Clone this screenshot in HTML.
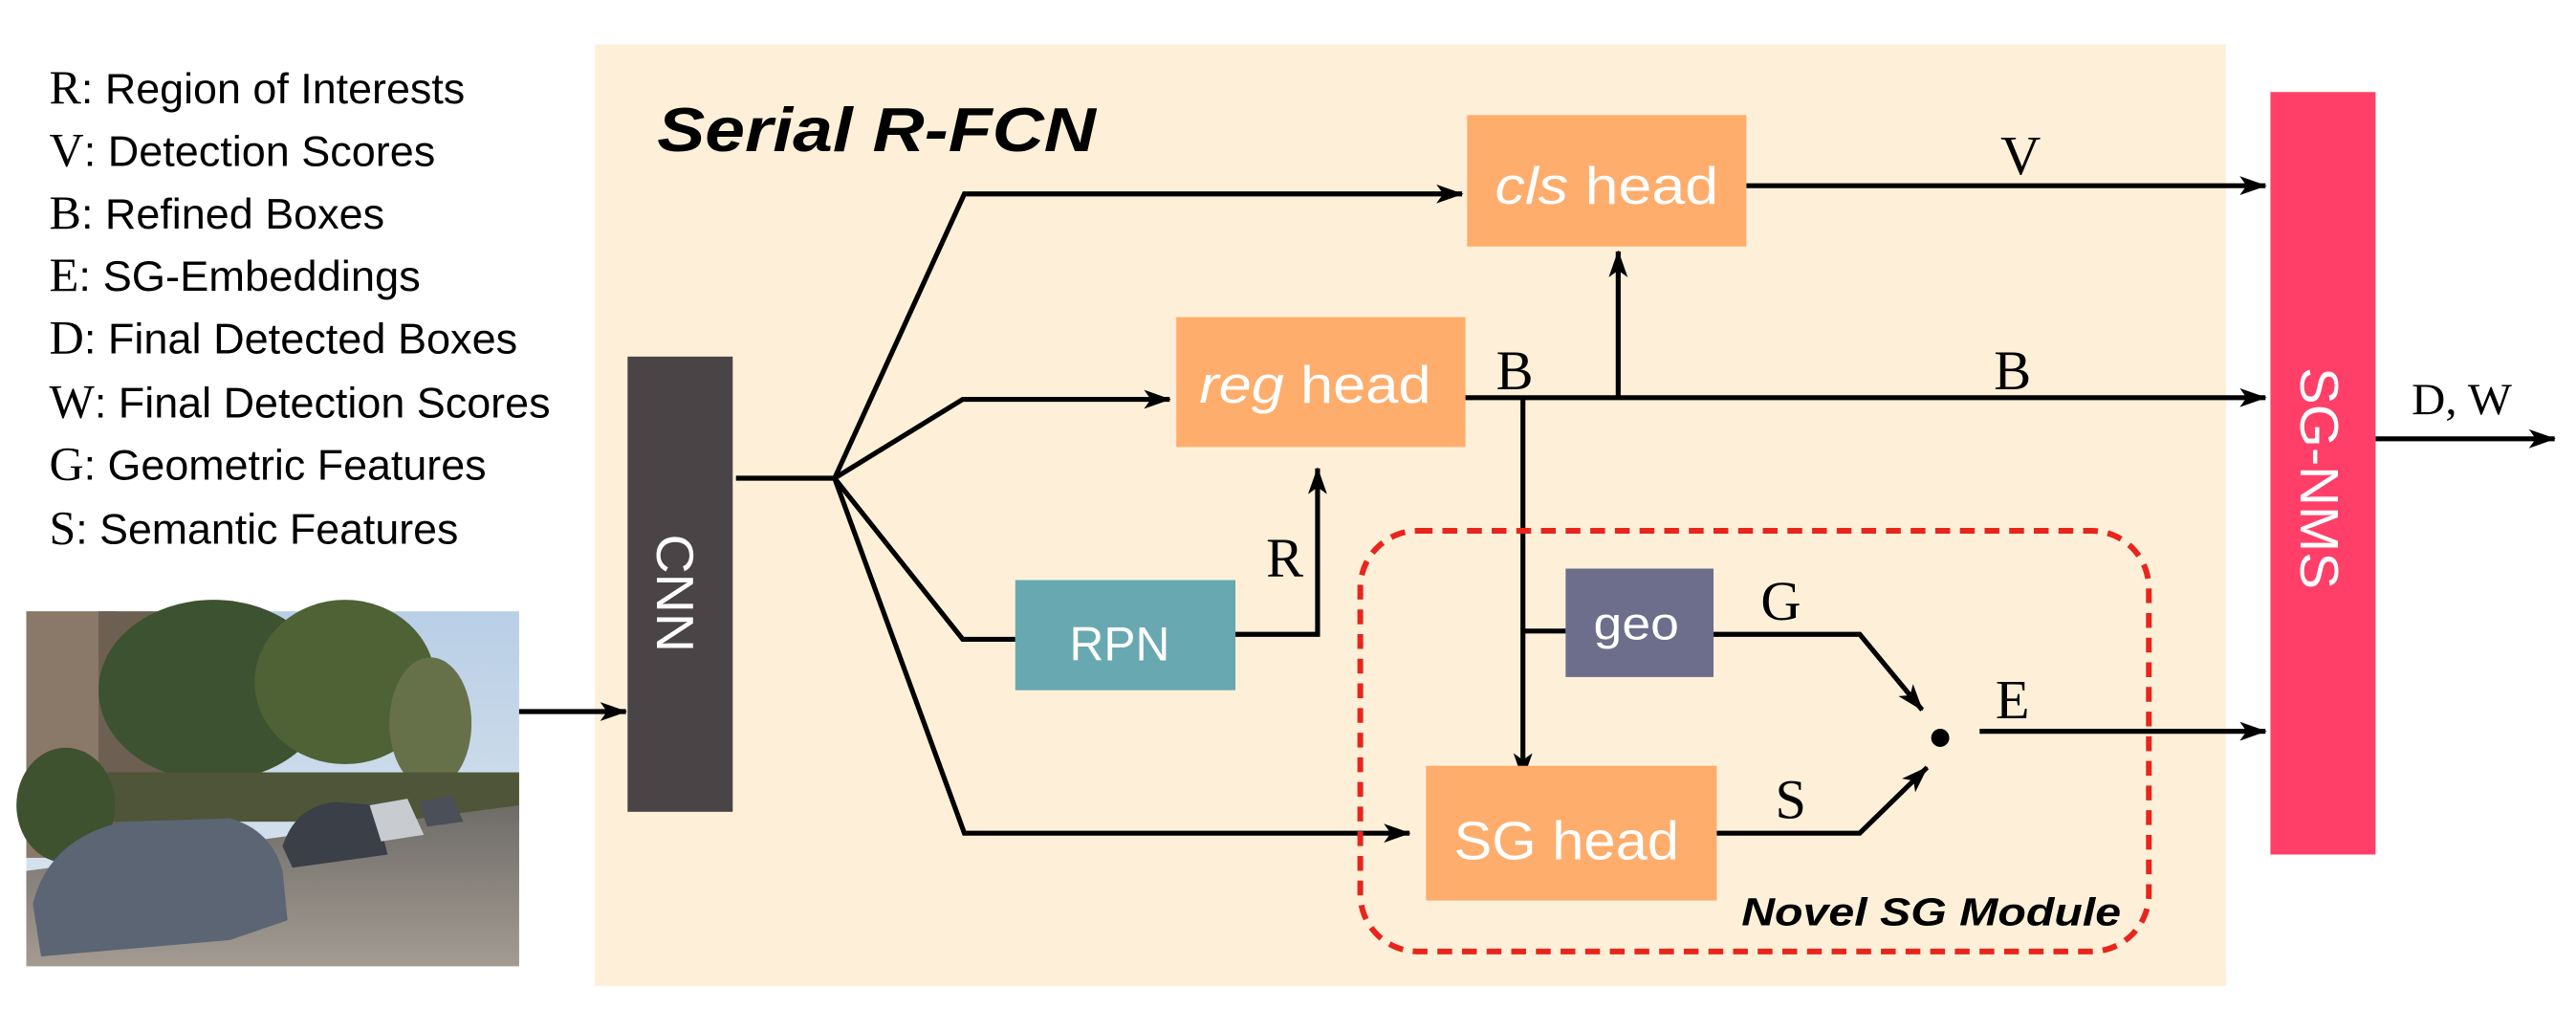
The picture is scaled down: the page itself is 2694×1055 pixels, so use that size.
<!DOCTYPE html>
<html><head><meta charset="utf-8"><style>
html,body{margin:0;padding:0;background:#fff;}
svg{display:block;}
.s{font-family:"Liberation Serif",serif;}
.a{font-family:"Liberation Sans",sans-serif;}
</style></head><body>
<svg width="2694" height="1055" viewBox="0 0 1568 614" preserveAspectRatio="none" xmlns="http://www.w3.org/2000/svg">
<defs>
<marker id="ar" viewBox="0 0 20 14" refX="19" refY="7" markerWidth="5.5" markerHeight="4.5" markerUnits="strokeWidth" orient="auto">
<path d="M0,0 L20,7 L0,14 L5,7 Z" fill="#000"/>
</marker>
<linearGradient id="sky" x1="0" y1="0" x2="0" y2="1">
<stop offset="0" stop-color="#b9cfe6"/><stop offset="1" stop-color="#dfe7ef"/>
</linearGradient>
<linearGradient id="road" x1="0" y1="0" x2="0" y2="1">
<stop offset="0" stop-color="#6f6c68"/><stop offset="1" stop-color="#a39b92"/>
</linearGradient>
</defs>

<!-- legend -->
<g font-size="26">
<text x="30" y="63" textLength="253" lengthAdjust="spacingAndGlyphs"><tspan class="s" font-size="29">R</tspan><tspan class="a">: Region of Interests</tspan></text>
<text x="30" y="101" textLength="235" lengthAdjust="spacingAndGlyphs"><tspan class="s" font-size="29">V</tspan><tspan class="a">: Detection Scores</tspan></text>
<text x="30" y="139" textLength="204" lengthAdjust="spacingAndGlyphs"><tspan class="s" font-size="29">B</tspan><tspan class="a">: Refined Boxes</tspan></text>
<text x="30" y="177" textLength="226" lengthAdjust="spacingAndGlyphs"><tspan class="s" font-size="29">E</tspan><tspan class="a">: SG-Embeddings</tspan></text>
<text x="30" y="215" textLength="285" lengthAdjust="spacingAndGlyphs"><tspan class="s" font-size="29">D</tspan><tspan class="a">: Final Detected Boxes</tspan></text>
<text x="30" y="254" textLength="305" lengthAdjust="spacingAndGlyphs"><tspan class="s" font-size="29">W</tspan><tspan class="a">: Final Detection Scores</tspan></text>
<text x="30" y="292" textLength="266" lengthAdjust="spacingAndGlyphs"><tspan class="s" font-size="29">G</tspan><tspan class="a">: Geometric Features</tspan></text>
<text x="30" y="331" textLength="249" lengthAdjust="spacingAndGlyphs"><tspan class="s" font-size="29">S</tspan><tspan class="a">: Semantic Features</tspan></text>
</g>

<!-- photo -->
<g>
<rect x="16" y="372" width="300" height="216" fill="url(#sky)"/>
<rect x="16" y="372" width="55" height="150" fill="#8a7868"/>
<rect x="60" y="372" width="50" height="130" fill="#6d5f52"/>
<ellipse cx="130" cy="420" rx="70" ry="55" fill="#3d5230"/>
<ellipse cx="210" cy="415" rx="55" ry="50" fill="#4f6235"/>
<ellipse cx="262" cy="440" rx="25" ry="40" fill="#66714a"/>
<rect x="16" y="470" width="300" height="30" fill="#4f5538"/>
<polygon points="16,530 316,490 316,588 16,588" fill="url(#road)"/>
<ellipse cx="40" cy="490" rx="30" ry="35" fill="#3e5230"/>
<path d="M20,550 Q30,510 75,500 L140,498 Q165,505 172,530 L175,560 L140,572 L25,582 Z" fill="#5b6573"/>
<path d="M172,515 Q180,490 205,488 L228,490 L236,520 L178,528 Z" fill="#3a3f48"/>
<path d="M225,490 L248,486 L258,508 L232,512 Z" fill="#c8ccd0"/>
<path d="M255,488 L275,484 L282,500 L260,503 Z" fill="#4a4f58"/>
</g>

<!-- panel -->
<rect x="362" y="27" width="993" height="573" fill="#FEF0D8"/>
<text x="400" y="92" class="a" font-size="38" font-weight="bold" font-style="italic" textLength="267" lengthAdjust="spacingAndGlyphs">Serial R-FCN</text>

<!-- CNN -->
<rect x="382" y="217" width="64" height="277" fill="#4A4446"/>
<text transform="translate(411,361) rotate(90)" class="a" font-size="32" fill="#fff" text-anchor="middle" dominant-baseline="central" textLength="72" lengthAdjust="spacingAndGlyphs">CNN</text>

<g stroke="#000" stroke-width="3" fill="none">
<line x1="316" y1="433" x2="381" y2="433" marker-end="url(#ar)"/>
<polyline points="448,291 508,291"/>
<polyline points="508,291 587,118 890,118" marker-end="url(#ar)"/>
<polyline points="508,291 586,243 712,243" marker-end="url(#ar)"/>
<polyline points="508,291 586,389 618,389"/>
<polyline points="508,291 587,507 858,507" marker-end="url(#ar)"/>
<polyline points="752,386 802,386 802,285" marker-end="url(#ar)"/>
<line x1="1063" y1="113" x2="1379" y2="113" marker-end="url(#ar)"/>
<line x1="892" y1="242" x2="1379" y2="242" marker-end="url(#ar)"/>
<line x1="985" y1="242" x2="985" y2="153" marker-end="url(#ar)"/>
<line x1="927" y1="242" x2="927" y2="474" marker-end="url(#ar)"/>
<line x1="927" y1="384" x2="953" y2="384"/>
<polyline points="1043,386 1132,386 1170,432" marker-end="url(#ar)"/>
<polyline points="1045,507 1132,507 1173,467" marker-end="url(#ar)"/>
<line x1="1205" y1="445" x2="1379" y2="445" marker-end="url(#ar)"/>
<line x1="1446" y1="267" x2="1555" y2="267" marker-end="url(#ar)"/>
</g>
<circle cx="1181" cy="449" r="5.5" fill="#000"/>

<!-- dashed module -->
<rect x="828" y="323" width="480" height="256" rx="35" ry="35" fill="none" stroke="#E8251C" stroke-width="3.5" stroke-dasharray="9,6"/>
<text x="1060" y="563" class="a" font-size="24" font-weight="bold" font-style="italic" textLength="231" lengthAdjust="spacingAndGlyphs">Novel SG Module</text>

<!-- boxes -->
<rect x="893" y="70" width="170" height="80" fill="#FFAD6C"/>
<text x="910" y="124" class="a" font-size="32" fill="#fff" textLength="136" lengthAdjust="spacingAndGlyphs"><tspan font-style="italic">cls</tspan> head</text>
<rect x="716" y="193" width="176" height="79" fill="#FFAD6C"/>
<text x="730" y="245" class="a" font-size="32" fill="#fff" textLength="141" lengthAdjust="spacingAndGlyphs"><tspan font-style="italic">reg</tspan> head</text>
<rect x="618" y="353" width="134" height="67" fill="#68A8B1"/>
<text x="651" y="402" class="a" font-size="29" fill="#fff" textLength="61" lengthAdjust="spacingAndGlyphs">RPN</text>
<rect x="953" y="346" width="90" height="66" fill="#6D6E8B"/>
<text x="970" y="389" class="a" font-size="28" fill="#fff" textLength="52" lengthAdjust="spacingAndGlyphs">geo</text>
<rect x="868" y="466" width="177" height="82" fill="#FFAD6C"/>
<text x="885" y="523" class="a" font-size="33" fill="#fff" textLength="137" lengthAdjust="spacingAndGlyphs">SG head</text>

<rect x="1382" y="56" width="64" height="464" fill="#FF3F68"/>
<text transform="translate(1411,291) rotate(90)" class="a" font-size="33" fill="#fff" text-anchor="middle" dominant-baseline="central" textLength="135" lengthAdjust="spacingAndGlyphs">SG-NMS</text>

<!-- labels -->
<g class="s" font-size="34">
<text x="782" y="351" text-anchor="middle">R</text>
<text x="922" y="237" text-anchor="middle">B</text>
<text x="1225" y="237" text-anchor="middle">B</text>
<text x="1230" y="106" text-anchor="middle">V</text>
<text x="1084" y="377" text-anchor="middle">G</text>
<text x="1090" y="498" text-anchor="middle">S</text>
<text x="1225" y="437" text-anchor="middle">E</text>
<text x="1468" y="252" font-size="27" textLength="61" lengthAdjust="spacingAndGlyphs">D, W</text>
</g>
</svg>
</body></html>
